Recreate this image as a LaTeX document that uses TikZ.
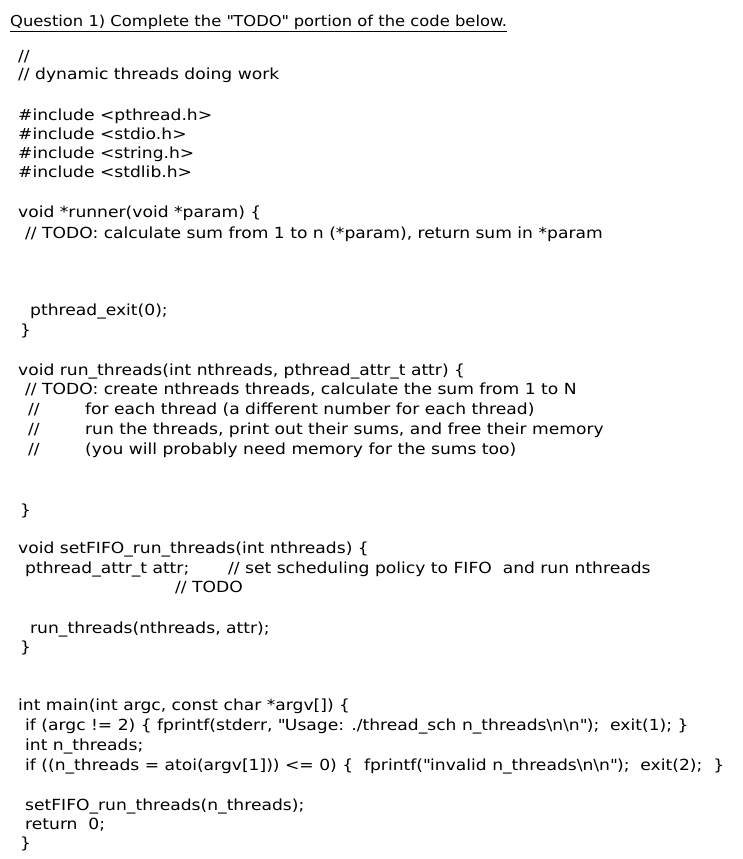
\documentclass[tikz,border=0pt]{standalone}
\usepackage{fontspec}
\setmainfont[FakeStretch=1.12]{DejaVu Sans}
\newfontfamily\titlefont[FakeStretch=1.09]{DejaVu Sans}
\newcommand{\dq}{\textquotedbl}
\begin{document}
\begin{tikzpicture}[x=1pt,y=-1pt,every node/.style={anchor=base west,inner sep=0pt,font=\fontsize{15.3}{18}\selectfont}]
\useasboundingbox[fill=white] (0,0) rectangle (742,859);
\node[font=\titlefont\fontsize{15}{18}\selectfont] (t) at (10,27) {\underline{Question 1) Complete the \dq TODO\dq\ portion of the code below.}};
\node (l1) at (18,62) {//};
\node (l2) at (18,80) {// dynamic threads doing work};
\node (l3) at (18,120) {\#include <pthread.h>};
\node (l4) at (18,139) {\#include <stdio.h>};
\node (l5) at (18,158) {\#include <string.h>};
\node (l6) at (18,177) {\#include <stdlib.h>};
\node (l7) at (18,217) {void *runner(void *param) \{};
\node (l8) at (25,238) {// TODO: calculate sum from 1 to n (*param), return sum in *param};
\node (l9) at (30,315) {pthread\_exit(0);};
\node (l10) at (20,335) {\}};
\node (l11) at (18,375) {void run\_threads(int nthreads, pthread\_attr\_t attr) \{};
\node (l12) at (25,394) {// TODO: create nthreads threads, calculate the sum from 1 to N};
\node (l13a) at (28,414) {//};
\node (l13) at (85,414) {for each thread (a different number for each thread)};
\node (l14a) at (28,434) {//};
\node (l14) at (85,434) {run the threads, print out their sums, and free their memory};
\node (l15a) at (28,454) {//};
\node (l15) at (85,454) {(you will probably need memory for the sums too)};
\node (l16) at (20,515) {\}};
\node (l17) at (18,553) {void setFIFO\_run\_threads(int nthreads) \{};
\node (l18) at (25,573) {pthread\_attr\_t attr;};
\node (l18b) at (228,573) {// set scheduling policy to FIFO \ and run nthreads};
\node (l19) at (175,592) {// TODO};
\node (l20) at (30,633) {run\_threads(nthreads, attr);};
\node (l21) at (20,652) {\}};
\node (l22) at (18,710) {int main(int argc, const char *argv[]) \{};
\node (l23) at (25,730) {if (argc != 2) \{ fprintf(stderr, \dq Usage: ./thread\_sch n\_threads\textbackslash n\textbackslash n\dq ); \ exit(1); \}};
\node (l24) at (25,750) {int n\_threads;};
\node (l25) at (25,770) {if ((n\_threads = atoi(argv[1])) <= 0) \{ \ fprintf(\dq invalid n\_threads\textbackslash n\textbackslash n\dq ); \ exit(2); \ \}};
\node (l26) at (25,810) {setFIFO\_run\_threads(n\_threads);};
\node (l27) at (25,829) {return \ 0;};
\node (l28) at (20,848) {\}};
\end{tikzpicture}
\end{document}
